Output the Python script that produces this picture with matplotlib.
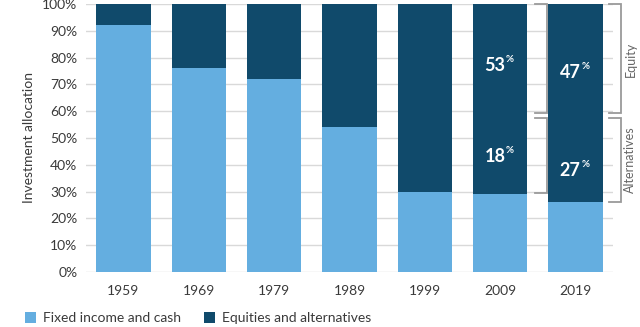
import matplotlib
matplotlib.use("Agg")
import matplotlib.pyplot as plt
from matplotlib.patches import Patch

plt.rcParams['font.family'] = ['Lato', 'DejaVu Sans']

years = ["1959", "1969", "1979", "1989", "1999", "2009", "2019"]
fixed_income = [92, 76, 72, 54, 30, 29, 26]
equities_alts = [100 - v for v in fixed_income]
yticks = [0, 10, 20, 30, 40, 50, 60, 70, 80, 90, 100]
ytick_labels = [f"{t}%" for t in yticks]

# Breakdown labels for 2009 and 2019: (value, label y position)
equity_share = {"2009": 53, "2019": 47}
alt_share = {"2009": 18, "2019": 27}
equity_label_y = {"2009": 77, "2019": 74.5}
alt_label_y = {"2009": 43, "2019": 38}
# brackets (top, bottom) in %
equity_bracket = {"2009": (100, 59.5), "2019": (100, 59.5)}
alt_bracket = {"2009": (57.5, 29.5), "2019": (57.5, 26)}

light = "#64AEE0"
dark = "#104A6B"
text_c = "#3a3a3a"

fig = plt.figure(figsize=(6.4, 3.27), dpi=100)
ax = fig.add_axes([0.134, 0.168, 0.824, 0.820])

x = list(range(len(years)))
ax.bar(x, fixed_income, width=0.72, color=light, zorder=3)
ax.bar(x, equities_alts, bottom=fixed_income, width=0.72, color=dark, zorder=3)

ax.set_xlim(-0.5, 6.5)
ax.set_ylim(0, 100)
ax.set_yticks(yticks)
ax.set_yticklabels(ytick_labels)
ax.set_xticks(x)
ax.set_xticklabels(years)
ax.grid(axis='y', color="#d9d9d9", linewidth=1, zorder=0)
for s in ax.spines.values():
    s.set_visible(False)
ax.tick_params(axis='both', length=0, labelsize=10, colors=text_c)
ax.tick_params(axis='x', pad=9)
ax.tick_params(axis='y', pad=6)
ax.set_ylabel("Investment allocation", fontsize=10, color=text_c, labelpad=5)

for yr in ["2009", "2019"]:
    i = years.index(yr)
    for val, ly in [(equity_share[yr], equity_label_y[yr]), (alt_share[yr], alt_label_y[yr])]:
        ax.text(i + 0.07, ly, str(val), ha='right', va='center', color='white',
                fontsize=13, fontweight='bold', zorder=5)
        ax.annotate("%", xy=(i + 0.07, ly), xytext=(0.5, 1.0), textcoords='offset points',
                    ha='left', va='bottom', color='white', fontsize=7, fontweight='bold', zorder=5)

# brackets
bc = "#9a9a9a"
for yr, bx in [("2009", 5.62), ("2019", 6.61)]:
    for top, bot in [equity_bracket[yr], alt_bracket[yr]]:
        ax.plot([bx - 0.16, bx, bx, bx - 0.16], [top, top, bot, bot], color=bc,
                linewidth=1.3, clip_on=False, zorder=6, solid_joinstyle='miter')
ax.text(6.73, 79.5, "Equity", rotation=90, ha='center', va='center', fontsize=9, color="#666666")
ax.text(6.73, 42, "Alternatives", rotation=90, ha='center', va='center', fontsize=9, color="#666666")

handles = [Patch(facecolor=light, label="Fixed income and cash"),
           Patch(facecolor=dark, label="Equities and alternatives")]
fig.legend(handles=handles, loc='lower left', bbox_to_anchor=(0.02, -0.03), ncol=2,
           frameon=False, fontsize=10, handlelength=0.8, handleheight=0.8,
           handletextpad=0.5, columnspacing=1.6, labelcolor=text_c)

fig.savefig("out.png", dpi=100)
